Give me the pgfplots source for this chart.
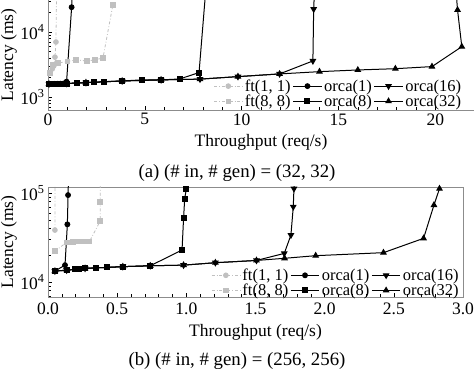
\documentclass[border=0pt]{standalone}
\usepackage{pgfplots}
\pgfplotsset{compat=1.18}
\usepackage{fontspec}
\setmainfont{Liberation Serif}
\definecolor{ftgray}{HTML}{C0C0C0}
\definecolor{axgray}{HTML}{8C8C8C}
\tikzset{
  orcaline/.style={black, line width=1pt, mark options={solid, fill=black}},
  ftline/.style={ftgray, line width=0.8pt, dash dot, mark options={solid, fill=ftgray}},
}
\begin{document}
\begin{tikzpicture}
\path[use as bounding box] (0,0) rectangle (474pt,369pt);
% ---------- (a)
\begin{axis}[
  scale only axis, width=426pt, height=110pt,
  at={(48pt,259pt)}, anchor=south west,
  ymode=log,
  font=\fontsize{17.5}{20}\selectfont,
  tick align=inside, xtick pos=bottom, ytick pos=left,
  axis x line*=bottom, axis y line*=left,
  axis line style={axgray, line width=0.8pt},
  major tick length=4pt, minor tick length=2.5pt,
  tick style={black, line width=0.6pt},
  minor x tick num=4,
  xmin=0, xmax=22, ymin=630, ymax=31000,
  xtick={0,5,10,15,20},
  xticklabels={0,5,10,15,20},
  ytick={1000,10000}, yticklabels={10\textsuperscript{3},10\textsuperscript{4}},
  minor ytick={700,800,900,2000,3000,4000,5000,6000,7000,8000,9000,20000,30000},
  xlabel={Throughput (req/s)}, ylabel={Latency (ms)},
  xlabel style={at={(axis description cs:0.5,0)}, anchor=north, yshift=-21pt},
  ylabel style={at={([xshift=-39pt]axis description cs:0,0.5)}, anchor=center},
  legend columns=3,
  legend cell align=left,
  legend image code/.code={\draw[mark repeat=2,mark phase=2] plot coordinates {(0cm,0cm)(0.5cm,0cm)(1cm,0cm)};},
  legend style={draw=none, fill=none, font=\fontsize{16.5}{18}\selectfont,
      inner sep=0pt, row sep=-2pt, at={(0.975,0.0)}, anchor=south east},
]
\addplot[ftline, mark=*, mark size=2.4pt] coordinates {(0.1,2300)(0.22,2700)(0.3,3000)(0.36,4100)(0.41,7000)(0.45,60000)};
\addlegendentry{ft(1, 1)}
\addplot[orcaline, mark=*, mark size=2.4pt] coordinates {(0.05,1580)(0.2,1585)(0.35,1590)(0.5,1595)(0.65,1600)(0.8,1610)(0.96,1720)(1.22,24000)(1.3,80000)};
\addlegendentry{orca(1)}
\addplot[orcaline, mark=triangle*, mark size=3pt, mark options={rotate=180}] coordinates {(0.05,1580)(0.96,1610)(1.96,1660)(3.83,1760)(5.84,1830)(7.85,1880)(9.81,2055)(11.96,2260)(13.68,3580)(13.72,22400)(13.8,80000)};
\addlegendentry{orca(16)}
\addplot[ftline, mark=square*, mark size=2.3pt] coordinates {(0.1,2340)(0.26,3100)(0.52,3330)(1.0,3500)(1.44,3710)(2.0,3580)(2.42,3710)(2.84,3980)(3.35,26000)};
\addlegendentry{ft(8, 8)}
\addplot[orcaline, mark=square*, mark size=2.5pt] coordinates {(0.05,1580)(0.2,1585)(0.35,1590)(0.5,1595)(0.65,1600)(0.8,1605)(0.96,1610)(1.49,1640)(1.96,1660)(2.39,1680)(2.89,1720)(3.83,1760)(4.83,1830)(5.84,1830)(6.8,1890)(7.8,2370)(8.15,45000)};
\addlegendentry{orca(8)}
\addplot[orcaline, mark=triangle*, mark size=3pt] coordinates {(0.05,1580)(0.96,1610)(1.96,1660)(3.83,1760)(5.84,1830)(7.85,1880)(9.81,2055)(11.96,2260)(14.02,2450)(16.0,2600)(17.94,2720)(19.83,2930)(21.37,5940)(21.15,21800)(21.0,80000)};
\addlegendentry{orca(32)}
\end{axis}
\node[font=\fontsize{18.8}{20}\selectfont] at (237pt,196pt) {(a) (\# in, \# gen) = (32, 32)};
% ---------- (b)
\begin{axis}[
  scale only axis, width=415pt, height=110pt,
  at={(48pt,72pt)}, anchor=south west,
  ymode=log,
  font=\fontsize{17.5}{20}\selectfont,
  tick align=inside, xtick pos=bottom, ytick pos=left,
  axis line style={axgray, line width=0.8pt},
  major tick length=4pt, minor tick length=2.5pt,
  tick style={black, line width=0.6pt},
  minor x tick num=4,
  xmin=0, xmax=3, ymin=6800, ymax=117000,
  xtick={0,0.5,1,1.5,2,2.5,3},
  xticklabels={0.0,0.5,1.0,1.5,2.0,2.5,3.0},
  xticklabel style={yshift=-2pt},
  ytick={10000,100000}, yticklabels={10\textsuperscript{4},10\textsuperscript{5}},
  minor ytick={7000,8000,9000,20000,30000,40000,50000,60000,70000,80000,90000},
  xlabel={Throughput (req/s)}, ylabel={Latency (ms)},
  xlabel style={at={(axis description cs:0.5,0)}, anchor=north, yshift=-24pt},
  ylabel style={at={([xshift=-39pt]axis description cs:0,0.5)}, anchor=center},
  legend columns=3,
  legend cell align=left,
  legend image code/.code={\draw[mark repeat=2,mark phase=2] plot coordinates {(0cm,0cm)(0.5cm,0cm)(1cm,0cm)};},
  legend style={draw=none, fill=none, font=\fontsize{16.5}{18}\selectfont,
      inner sep=0pt, row sep=-2pt, at={(0.995,-0.02)}, anchor=south east},
]
\addplot[ftline, mark=*, mark size=2.4pt] coordinates {(0.05,38400)(0.052,300000)};
\addlegendentry{ft(1, 1)}
\addplot[orcaline, mark=*, mark size=2.4pt] coordinates {(0.05,13300)(0.123,15500)(0.14,44500)(0.145,94900)(0.15,200000)};
\addlegendentry{orca(1)}
\addplot[orcaline, mark=triangle*, mark size=3pt, mark options={rotate=180}] coordinates {(0.05,13300)(0.135,13600)(0.268,14250)(0.541,14900)(0.739,15250)(0.98,15500)(1.21,16500)(1.507,17500)(1.708,21000)(1.756,33700)(1.773,70100)(1.778,112000)(1.785,200000)};
\addlegendentry{orca(16)}
\addplot[ftline, mark=square*, mark size=2.3pt] coordinates {(0.05,22300)(0.135,27900)(0.18,28400)(0.22,28500)(0.26,28500)(0.30,28600)(0.377,48400)(0.377,79400)(0.38,200000)};
\addlegendentry{ft(8, 8)}
\addplot[orcaline, mark=square*, mark size=2.5pt] coordinates {(0.05,13300)(0.135,13600)(0.196,13900)(0.227,14000)(0.268,14250)(0.348,14500)(0.425,14600)(0.541,14900)(0.739,15250)(0.969,22900)(0.98,52000)(0.988,85700)(1.0,112000)(1.01,200000)};
\addlegendentry{orca(8)}
\addplot[orcaline, mark=triangle*, mark size=3pt] coordinates {(0.05,13300)(0.135,13600)(0.268,14250)(0.541,14900)(0.739,15250)(0.98,15500)(1.21,16500)(1.507,17500)(1.71,18500)(1.935,19800)(2.425,21400)(2.715,31000)(2.79,73300)(2.83,112000)(2.845,200000)};
\addlegendentry{orca(32)}
\end{axis}
\node[font=\fontsize{18.8}{20}\selectfont] at (237pt,8pt) {(b) (\# in, \# gen) = (256, 256)};
\end{tikzpicture}
\end{document}
